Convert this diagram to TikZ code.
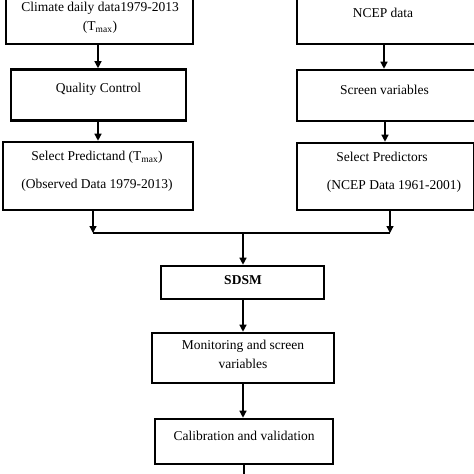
\documentclass[tikz,border=0pt]{standalone}
\usepackage{fontspec}
\setmainfont{Liberation Serif}
\usetikzlibrary{arrows.meta}
\begin{document}
\begin{tikzpicture}[x=1pt,y=-1pt,
  box/.style={draw, line width=2.6pt, rectangle, inner sep=0pt},
  txt/.style={font=\fontsize{13.5}{15}\selectfont, inner sep=0pt, anchor=center},
  conn/.style={line width=1.3pt},
  arr/.style={conn, -{Triangle[length=7pt,width=7pt]}}]
\useasboundingbox (0,0) rectangle (474,474);
% left column
\node[box, minimum width=187pt, minimum height=58pt] (c1) at (99.5,15) {};
\node[txt] (t1a) at (100,8) {Climate daily data1979-2013};
\node[txt] (t1b) at (100,27) {(T\textsubscript{max})};
\node[box, minimum width=175pt, minimum height=51pt] (c2) at (98.5,95) {};
\node[txt] (t2) at (98.5,89) {Quality Control};
\node[box, minimum width=190pt, minimum height=68pt] (c3) at (98,176) {};
\node[txt] (t3a) at (97,157) {Select Predictand (T\textsubscript{max})};
\node[txt] (t3b) at (97,185) {(Observed Data 1979-2013)};
% right column
\node[box, minimum width=178pt, minimum height=58pt] (r1) at (386,15) {};
\node[txt] (u1) at (383,13) {NCEP data};
\node[box, minimum width=178pt, minimum height=51pt] (r2) at (386,95.5) {};
\node[txt] (u2) at (384.5,90) {Screen variables};
\node[box, minimum width=177pt, minimum height=67pt] (r3) at (385.5,176.5) {};
\node[txt] (u3a) at (382,157) {Select Predictors};
\node[txt] (u3b) at (394,186) {(NCEP Data 1961-2001)};
% centre column
\node[box, minimum width=163pt, minimum height=33pt] (s1) at (242.5,282.5) {};
\node[txt, font=\fontsize{13.5}{15}\selectfont\bfseries] (v1) at (243,280) {SDSM};
\node[box, minimum width=182pt, minimum height=50pt] (s2) at (243,358) {};
\node[txt] (v2a) at (243,346) {Monitoring and screen};
\node[txt] (v2b) at (243,364) {variables};
\node[box, minimum width=178pt, minimum height=45pt] (s3) at (244,441.5) {};
\node[txt] (v3) at (244,436) {Calibration and validation};
% connectors
\coordinate (jl) at (93,233);
\coordinate (jr) at (390,233);
\coordinate (jc) at (243,233);
\coordinate (endc) at (244,476);
\draw[arr] (c1.south -| 98,0) -- (c2.north -| 98,0);
\draw[arr] (c2.south -| 98,0) -- (c3.north -| 98,0);
\draw[arr] (r1.south -| 384,0) -- (r2.north -| 384,0);
\draw[arr] (r2.south -| 385,0) -- (r3.north -| 385,0);
\draw[arr] (c3.south -| jl) -- (jl);
\draw[arr] (r3.south -| jr) -- (jr);
\draw[conn] (jl) -- (jr);
\draw[arr] (jc) -- (s1.north -| jc);
\draw[arr] (s1.south -| jc) -- (s2.north -| jc);
\draw[arr] (s2.south -| jc) -- (s3.north -| jc);
\draw[conn] (s3.south -| endc) -- (endc);
\end{tikzpicture}
\end{document}
